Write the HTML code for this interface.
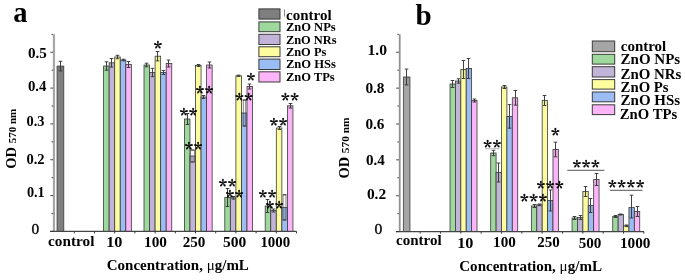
<!DOCTYPE html><html><head><meta charset="utf-8"><title>OD 570 nm vs concentration</title><style>html,body{margin:0;padding:0;background:#fff;width:685px;height:280px;overflow:hidden}svg{display:block}</style></head><body>
<svg width="685" height="280" viewBox="0 0 685 280" font-family='"Liberation Serif", "Times New Roman", serif' fill="#000">
<rect x="57.05" y="66.10" width="6.75" height="165.30" fill="#7f7f7f" stroke="#3a3a3a" stroke-width="0.8"/>
<rect x="57.45" y="66.10" width="5.95" height="4.80" fill="#000" fill-opacity="0.07"/>
<path d="M60.50 61.30V70.90M58.70 61.30H62.30M58.70 70.90H62.30" stroke="#383838" stroke-width="0.95" fill="none"/>
<rect x="103.60" y="66.00" width="5.55" height="165.40" fill="#9ed89c" stroke="#3a3a3a" stroke-width="0.8"/>
<rect x="104.00" y="66.00" width="4.75" height="4.20" fill="#000" fill-opacity="0.07"/>
<path d="M106.50 61.80V70.20M104.70 61.80H108.30M104.70 70.20H108.30" stroke="#383838" stroke-width="0.95" fill="none"/>
<rect x="109.15" y="62.80" width="5.55" height="168.60" fill="#c2b4d8" stroke="#3a3a3a" stroke-width="0.8"/>
<rect x="109.55" y="62.80" width="4.75" height="4.30" fill="#000" fill-opacity="0.07"/>
<path d="M111.50 58.50V67.10M109.70 58.50H113.30M109.70 67.10H113.30" stroke="#383838" stroke-width="0.95" fill="none"/>
<rect x="114.70" y="57.00" width="5.55" height="174.40" fill="#fdfda0" stroke="#3a3a3a" stroke-width="0.8"/>
<rect x="115.10" y="57.00" width="4.75" height="1.70" fill="#000" fill-opacity="0.07"/>
<path d="M117.50 55.30V58.70M115.70 55.30H119.30M115.70 58.70H119.30" stroke="#383838" stroke-width="0.95" fill="none"/>
<rect x="120.25" y="60.00" width="5.55" height="171.40" fill="#9cbcf4" stroke="#3a3a3a" stroke-width="0.8"/>
<rect x="120.65" y="60.00" width="4.75" height="0.80" fill="#000" fill-opacity="0.07"/>
<path d="M123.50 59.20V60.80M121.70 59.20H125.30M121.70 60.80H125.30" stroke="#383838" stroke-width="0.95" fill="none"/>
<rect x="125.80" y="64.50" width="5.55" height="166.90" fill="#fcb4f8" stroke="#3a3a3a" stroke-width="0.8"/>
<rect x="126.20" y="64.50" width="4.75" height="3.00" fill="#000" fill-opacity="0.07"/>
<path d="M128.50 61.50V67.50M126.70 61.50H130.30M126.70 67.50H130.30" stroke="#383838" stroke-width="0.95" fill="none"/>
<rect x="144.00" y="65.00" width="5.55" height="166.40" fill="#9ed89c" stroke="#3a3a3a" stroke-width="0.8"/>
<rect x="144.40" y="65.00" width="4.75" height="1.80" fill="#000" fill-opacity="0.07"/>
<path d="M146.50 63.20V66.80M144.70 63.20H148.30M144.70 66.80H148.30" stroke="#383838" stroke-width="0.95" fill="none"/>
<rect x="149.55" y="72.50" width="5.55" height="158.90" fill="#c2b4d8" stroke="#3a3a3a" stroke-width="0.8"/>
<rect x="149.95" y="72.50" width="4.75" height="4.20" fill="#000" fill-opacity="0.07"/>
<path d="M152.50 68.30V76.70M150.70 68.30H154.30M150.70 76.70H154.30" stroke="#383838" stroke-width="0.95" fill="none"/>
<rect x="155.10" y="56.20" width="5.55" height="175.20" fill="#fdfda0" stroke="#3a3a3a" stroke-width="0.8"/>
<rect x="155.50" y="56.20" width="4.75" height="4.70" fill="#000" fill-opacity="0.07"/>
<path d="M157.50 51.50V60.90M155.70 51.50H159.30M155.70 60.90H159.30" stroke="#383838" stroke-width="0.95" fill="none"/>
<rect x="160.65" y="72.50" width="5.55" height="158.90" fill="#9cbcf4" stroke="#3a3a3a" stroke-width="0.8"/>
<rect x="161.05" y="72.50" width="4.75" height="2.00" fill="#000" fill-opacity="0.07"/>
<path d="M163.50 70.50V74.50M161.70 70.50H165.30M161.70 74.50H165.30" stroke="#383838" stroke-width="0.95" fill="none"/>
<rect x="166.20" y="63.50" width="5.55" height="167.90" fill="#fcb4f8" stroke="#3a3a3a" stroke-width="0.8"/>
<rect x="166.60" y="63.50" width="4.75" height="3.50" fill="#000" fill-opacity="0.07"/>
<path d="M168.50 60.00V67.00M166.70 60.00H170.30M166.70 67.00H170.30" stroke="#383838" stroke-width="0.95" fill="none"/>
<rect x="184.40" y="119.00" width="5.55" height="112.40" fill="#9ed89c" stroke="#3a3a3a" stroke-width="0.8"/>
<rect x="184.80" y="119.00" width="4.75" height="5.50" fill="#000" fill-opacity="0.07"/>
<path d="M187.50 113.50V124.50M185.70 113.50H189.30M185.70 124.50H189.30" stroke="#383838" stroke-width="0.95" fill="none"/>
<rect x="189.95" y="156.00" width="5.55" height="75.40" fill="#c2b4d8" stroke="#3a3a3a" stroke-width="0.8"/>
<rect x="190.35" y="156.00" width="4.75" height="6.00" fill="#000" fill-opacity="0.07"/>
<rect x="190.30" y="150.00" width="4.40" height="12.00" fill="#000" fill-opacity="0.04" stroke="#505050" stroke-width="0.7"/>
<path d="M190.70 150.00H194.30M190.70 162.00H194.30" stroke="#383838" stroke-width="0.95" fill="none"/>
<rect x="195.50" y="65.50" width="5.55" height="165.90" fill="#fdfda0" stroke="#3a3a3a" stroke-width="0.8"/>
<rect x="195.90" y="65.50" width="4.75" height="1.00" fill="#000" fill-opacity="0.07"/>
<path d="M198.50 64.50V66.50M196.70 64.50H200.30M196.70 66.50H200.30" stroke="#383838" stroke-width="0.95" fill="none"/>
<rect x="201.05" y="97.00" width="5.55" height="134.40" fill="#9cbcf4" stroke="#3a3a3a" stroke-width="0.8"/>
<rect x="201.45" y="97.00" width="4.75" height="1.50" fill="#000" fill-opacity="0.07"/>
<path d="M203.50 95.50V98.50M201.70 95.50H205.30M201.70 98.50H205.30" stroke="#383838" stroke-width="0.95" fill="none"/>
<rect x="206.60" y="65.00" width="5.55" height="166.40" fill="#fcb4f8" stroke="#3a3a3a" stroke-width="0.8"/>
<rect x="207.00" y="65.00" width="4.75" height="3.00" fill="#000" fill-opacity="0.07"/>
<path d="M209.50 62.00V68.00M207.70 62.00H211.30M207.70 68.00H211.30" stroke="#383838" stroke-width="0.95" fill="none"/>
<rect x="224.80" y="197.50" width="5.55" height="33.90" fill="#9ed89c" stroke="#3a3a3a" stroke-width="0.8"/>
<rect x="225.20" y="197.50" width="4.75" height="9.00" fill="#000" fill-opacity="0.07"/>
<path d="M227.50 188.50V206.50M225.70 188.50H229.30M225.70 206.50H229.30" stroke="#383838" stroke-width="0.95" fill="none"/>
<rect x="230.35" y="197.80" width="5.55" height="33.60" fill="#c2b4d8" stroke="#3a3a3a" stroke-width="0.8"/>
<rect x="230.75" y="197.80" width="4.75" height="1.30" fill="#000" fill-opacity="0.07"/>
<path d="M233.50 196.50V199.10M231.70 196.50H235.30M231.70 199.10H235.30" stroke="#383838" stroke-width="0.95" fill="none"/>
<rect x="235.90" y="75.80" width="5.55" height="155.60" fill="#fdfda0" stroke="#3a3a3a" stroke-width="0.8"/>
<rect x="236.30" y="75.80" width="4.75" height="0.60" fill="#000" fill-opacity="0.07"/>
<path d="M238.50 75.20V76.40M236.70 75.20H240.30M236.70 76.40H240.30" stroke="#383838" stroke-width="0.95" fill="none"/>
<rect x="241.45" y="113.00" width="5.55" height="118.40" fill="#9cbcf4" stroke="#3a3a3a" stroke-width="0.8"/>
<rect x="241.85" y="113.00" width="4.75" height="13.00" fill="#000" fill-opacity="0.07"/>
<rect x="243.20" y="100.00" width="2.60" height="26.00" fill="#000" fill-opacity="0.04" stroke="#505050" stroke-width="0.7"/>
<path d="M242.70 100.00H246.30M242.70 126.00H246.30" stroke="#383838" stroke-width="0.95" fill="none"/>
<rect x="247.00" y="86.50" width="5.55" height="144.90" fill="#fcb4f8" stroke="#3a3a3a" stroke-width="0.8"/>
<rect x="247.40" y="86.50" width="4.75" height="2.50" fill="#000" fill-opacity="0.07"/>
<path d="M249.50 84.00V89.00M247.70 84.00H251.30M247.70 89.00H251.30" stroke="#383838" stroke-width="0.95" fill="none"/>
<rect x="265.20" y="206.00" width="5.55" height="25.40" fill="#9ed89c" stroke="#3a3a3a" stroke-width="0.8"/>
<rect x="265.60" y="206.00" width="4.75" height="6.50" fill="#000" fill-opacity="0.07"/>
<path d="M267.50 199.50V212.50M265.70 199.50H269.30M265.70 212.50H269.30" stroke="#383838" stroke-width="0.95" fill="none"/>
<rect x="270.75" y="210.50" width="5.55" height="20.90" fill="#c2b4d8" stroke="#3a3a3a" stroke-width="0.8"/>
<rect x="271.15" y="210.50" width="4.75" height="1.50" fill="#000" fill-opacity="0.07"/>
<path d="M273.50 209.00V212.00M271.70 209.00H275.30M271.70 212.00H275.30" stroke="#383838" stroke-width="0.95" fill="none"/>
<rect x="276.30" y="128.00" width="5.55" height="103.40" fill="#fdfda0" stroke="#3a3a3a" stroke-width="0.8"/>
<rect x="276.70" y="128.00" width="4.75" height="1.50" fill="#000" fill-opacity="0.07"/>
<path d="M279.50 126.50V129.50M277.70 126.50H281.30M277.70 129.50H281.30" stroke="#383838" stroke-width="0.95" fill="none"/>
<rect x="281.85" y="207.50" width="5.55" height="23.90" fill="#9cbcf4" stroke="#3a3a3a" stroke-width="0.8"/>
<rect x="282.25" y="207.50" width="4.75" height="12.50" fill="#000" fill-opacity="0.07"/>
<rect x="283.00" y="194.80" width="3.00" height="25.20" fill="#000" fill-opacity="0.04" stroke="#505050" stroke-width="0.7"/>
<path d="M282.70 194.80H286.30M282.70 220.00H286.30" stroke="#383838" stroke-width="0.95" fill="none"/>
<rect x="287.40" y="105.80" width="5.55" height="125.60" fill="#fcb4f8" stroke="#3a3a3a" stroke-width="0.8"/>
<rect x="287.80" y="105.80" width="4.75" height="2.30" fill="#000" fill-opacity="0.07"/>
<path d="M290.50 103.50V108.10M288.70 103.50H292.30M288.70 108.10H292.30" stroke="#383838" stroke-width="0.95" fill="none"/>
<line x1="53.95" y1="34.3" x2="53.95" y2="231.4" stroke="#a6a6a6" stroke-width="2.2"/>
<line x1="50.1" y1="231.4" x2="296.5" y2="231.4" stroke="#444" stroke-width="1.3"/>
<line x1="74.30" y1="231.4" x2="74.30" y2="233.4" stroke="#333" stroke-width="1"/>
<line x1="94.50" y1="231.4" x2="94.50" y2="233.4" stroke="#333" stroke-width="1"/>
<line x1="114.70" y1="231.4" x2="114.70" y2="233.4" stroke="#333" stroke-width="1"/>
<line x1="134.90" y1="231.4" x2="134.90" y2="233.4" stroke="#333" stroke-width="1"/>
<line x1="155.10" y1="231.4" x2="155.10" y2="233.4" stroke="#333" stroke-width="1"/>
<line x1="175.30" y1="231.4" x2="175.30" y2="233.4" stroke="#333" stroke-width="1"/>
<line x1="195.50" y1="231.4" x2="195.50" y2="233.4" stroke="#333" stroke-width="1"/>
<line x1="215.70" y1="231.4" x2="215.70" y2="233.4" stroke="#333" stroke-width="1"/>
<line x1="235.90" y1="231.4" x2="235.90" y2="233.4" stroke="#333" stroke-width="1"/>
<line x1="256.10" y1="231.4" x2="256.10" y2="233.4" stroke="#333" stroke-width="1"/>
<line x1="276.30" y1="231.4" x2="276.30" y2="233.4" stroke="#333" stroke-width="1"/>
<line x1="296.50" y1="231.4" x2="296.50" y2="233.4" stroke="#333" stroke-width="1"/>
<line x1="50.35" y1="231.40" x2="53.15" y2="231.40" stroke="#333" stroke-width="0.9"/>
<line x1="51.55" y1="213.49" x2="53.15" y2="213.49" stroke="#333" stroke-width="0.9"/>
<line x1="50.35" y1="195.57" x2="53.15" y2="195.57" stroke="#333" stroke-width="0.9"/>
<line x1="51.55" y1="177.66" x2="53.15" y2="177.66" stroke="#333" stroke-width="0.9"/>
<line x1="50.35" y1="159.74" x2="53.15" y2="159.74" stroke="#333" stroke-width="0.9"/>
<line x1="51.55" y1="141.82" x2="53.15" y2="141.82" stroke="#333" stroke-width="0.9"/>
<line x1="50.35" y1="123.91" x2="53.15" y2="123.91" stroke="#333" stroke-width="0.9"/>
<line x1="51.55" y1="106.00" x2="53.15" y2="106.00" stroke="#333" stroke-width="0.9"/>
<line x1="50.35" y1="88.08" x2="53.15" y2="88.08" stroke="#333" stroke-width="0.9"/>
<line x1="51.55" y1="70.16" x2="53.15" y2="70.16" stroke="#333" stroke-width="0.9"/>
<line x1="50.35" y1="52.25" x2="53.15" y2="52.25" stroke="#333" stroke-width="0.9"/>
<line x1="51.55" y1="34.34" x2="53.15" y2="34.34" stroke="#333" stroke-width="0.9"/>
<rect x="403.34" y="77.00" width="6.60" height="154.60" fill="#a5a5a5" stroke="#3a3a3a" stroke-width="0.8"/>
<rect x="403.74" y="77.00" width="5.80" height="7.90" fill="#000" fill-opacity="0.07"/>
<path d="M406.50 69.10V84.90M404.70 69.10H408.30M404.70 84.90H408.30" stroke="#383838" stroke-width="0.95" fill="none"/>
<rect x="450.02" y="84.00" width="5.40" height="147.60" fill="#9ed89c" stroke="#3a3a3a" stroke-width="0.8"/>
<rect x="450.42" y="84.00" width="4.60" height="3.50" fill="#000" fill-opacity="0.07"/>
<path d="M452.50 80.50V87.50M450.70 80.50H454.30M450.70 87.50H454.30" stroke="#383838" stroke-width="0.95" fill="none"/>
<rect x="455.42" y="81.00" width="5.40" height="150.60" fill="#c2b4d8" stroke="#3a3a3a" stroke-width="0.8"/>
<rect x="455.82" y="81.00" width="4.60" height="2.20" fill="#000" fill-opacity="0.07"/>
<path d="M458.50 78.80V83.20M456.70 78.80H460.30M456.70 83.20H460.30" stroke="#383838" stroke-width="0.95" fill="none"/>
<rect x="460.82" y="69.50" width="5.40" height="162.10" fill="#fdfda0" stroke="#3a3a3a" stroke-width="0.8"/>
<rect x="461.22" y="69.50" width="4.60" height="9.00" fill="#000" fill-opacity="0.07"/>
<path d="M463.50 60.50V78.50M461.70 60.50H465.30M461.70 78.50H465.30" stroke="#383838" stroke-width="0.95" fill="none"/>
<rect x="466.22" y="68.50" width="5.40" height="163.10" fill="#9cbcf4" stroke="#3a3a3a" stroke-width="0.8"/>
<rect x="466.62" y="68.50" width="4.60" height="10.00" fill="#000" fill-opacity="0.07"/>
<path d="M468.50 58.50V78.50M466.70 58.50H470.30M466.70 78.50H470.30" stroke="#383838" stroke-width="0.95" fill="none"/>
<rect x="471.62" y="100.50" width="5.40" height="131.10" fill="#fcb4f8" stroke="#3a3a3a" stroke-width="0.8"/>
<rect x="472.02" y="100.50" width="4.60" height="1.50" fill="#000" fill-opacity="0.07"/>
<path d="M474.50 99.00V102.00M472.70 99.00H476.30M472.70 102.00H476.30" stroke="#383838" stroke-width="0.95" fill="none"/>
<rect x="490.70" y="153.00" width="5.40" height="78.60" fill="#9ed89c" stroke="#3a3a3a" stroke-width="0.8"/>
<rect x="491.10" y="153.00" width="4.60" height="2.70" fill="#000" fill-opacity="0.07"/>
<path d="M493.50 150.30V155.70M491.70 150.30H495.30M491.70 155.70H495.30" stroke="#383838" stroke-width="0.95" fill="none"/>
<rect x="496.10" y="172.50" width="5.40" height="59.10" fill="#c2b4d8" stroke="#3a3a3a" stroke-width="0.8"/>
<rect x="496.50" y="172.50" width="4.60" height="9.50" fill="#000" fill-opacity="0.07"/>
<path d="M498.50 163.00V182.00M496.70 163.00H500.30M496.70 182.00H500.30" stroke="#383838" stroke-width="0.95" fill="none"/>
<rect x="501.50" y="87.00" width="5.40" height="144.60" fill="#fdfda0" stroke="#3a3a3a" stroke-width="0.8"/>
<rect x="501.90" y="87.00" width="4.60" height="1.50" fill="#000" fill-opacity="0.07"/>
<path d="M504.50 85.50V88.50M502.70 85.50H506.30M502.70 88.50H506.30" stroke="#383838" stroke-width="0.95" fill="none"/>
<rect x="506.90" y="116.40" width="5.40" height="115.20" fill="#9cbcf4" stroke="#3a3a3a" stroke-width="0.8"/>
<rect x="507.30" y="116.40" width="4.60" height="11.80" fill="#000" fill-opacity="0.07"/>
<path d="M509.50 104.60V128.20M507.70 104.60H511.30M507.70 128.20H511.30" stroke="#383838" stroke-width="0.95" fill="none"/>
<rect x="512.30" y="97.80" width="5.40" height="133.80" fill="#fcb4f8" stroke="#3a3a3a" stroke-width="0.8"/>
<rect x="512.70" y="97.80" width="4.60" height="7.30" fill="#000" fill-opacity="0.07"/>
<path d="M515.50 90.50V105.10M513.70 90.50H517.30M513.70 105.10H517.30" stroke="#383838" stroke-width="0.95" fill="none"/>
<rect x="531.38" y="206.00" width="5.40" height="25.60" fill="#9ed89c" stroke="#3a3a3a" stroke-width="0.8"/>
<rect x="531.78" y="206.00" width="4.60" height="1.50" fill="#000" fill-opacity="0.07"/>
<path d="M534.50 204.50V207.50M532.70 204.50H536.30M532.70 207.50H536.30" stroke="#383838" stroke-width="0.95" fill="none"/>
<rect x="536.78" y="204.80" width="5.40" height="26.80" fill="#c2b4d8" stroke="#3a3a3a" stroke-width="0.8"/>
<rect x="537.18" y="204.80" width="4.60" height="0.80" fill="#000" fill-opacity="0.07"/>
<path d="M539.50 204.00V205.60M537.70 204.00H541.30M537.70 205.60H541.30" stroke="#383838" stroke-width="0.95" fill="none"/>
<rect x="542.18" y="100.50" width="5.40" height="131.10" fill="#fdfda0" stroke="#3a3a3a" stroke-width="0.8"/>
<rect x="542.58" y="100.50" width="4.60" height="5.00" fill="#000" fill-opacity="0.07"/>
<path d="M544.50 95.50V105.50M542.70 95.50H546.30M542.70 105.50H546.30" stroke="#383838" stroke-width="0.95" fill="none"/>
<rect x="547.58" y="200.50" width="5.40" height="31.10" fill="#9cbcf4" stroke="#3a3a3a" stroke-width="0.8"/>
<rect x="547.98" y="200.50" width="4.60" height="10.50" fill="#000" fill-opacity="0.07"/>
<path d="M550.50 190.00V211.00M548.70 190.00H552.30M548.70 211.00H552.30" stroke="#383838" stroke-width="0.95" fill="none"/>
<rect x="552.98" y="149.50" width="5.40" height="82.10" fill="#fcb4f8" stroke="#3a3a3a" stroke-width="0.8"/>
<rect x="553.38" y="149.50" width="4.60" height="7.30" fill="#000" fill-opacity="0.07"/>
<path d="M555.50 142.20V156.80M553.70 142.20H557.30M553.70 156.80H557.30" stroke="#383838" stroke-width="0.95" fill="none"/>
<rect x="572.06" y="218.00" width="5.40" height="13.60" fill="#9ed89c" stroke="#3a3a3a" stroke-width="0.8"/>
<rect x="572.46" y="218.00" width="4.60" height="1.50" fill="#000" fill-opacity="0.07"/>
<path d="M574.50 216.50V219.50M572.70 216.50H576.30M572.70 219.50H576.30" stroke="#383838" stroke-width="0.95" fill="none"/>
<rect x="577.46" y="217.50" width="5.40" height="14.10" fill="#c2b4d8" stroke="#3a3a3a" stroke-width="0.8"/>
<rect x="577.86" y="217.50" width="4.60" height="2.00" fill="#000" fill-opacity="0.07"/>
<path d="M580.50 215.50V219.50M578.70 215.50H582.30M578.70 219.50H582.30" stroke="#383838" stroke-width="0.95" fill="none"/>
<rect x="582.86" y="191.50" width="5.40" height="40.10" fill="#fdfda0" stroke="#3a3a3a" stroke-width="0.8"/>
<rect x="583.26" y="191.50" width="4.60" height="5.00" fill="#000" fill-opacity="0.07"/>
<path d="M585.50 186.50V196.50M583.70 186.50H587.30M583.70 196.50H587.30" stroke="#383838" stroke-width="0.95" fill="none"/>
<rect x="588.26" y="205.50" width="5.40" height="26.10" fill="#9cbcf4" stroke="#3a3a3a" stroke-width="0.8"/>
<rect x="588.66" y="205.50" width="4.60" height="7.00" fill="#000" fill-opacity="0.07"/>
<path d="M590.50 198.50V212.50M588.70 198.50H592.30M588.70 212.50H592.30" stroke="#383838" stroke-width="0.95" fill="none"/>
<rect x="593.66" y="179.50" width="5.40" height="52.10" fill="#fcb4f8" stroke="#3a3a3a" stroke-width="0.8"/>
<rect x="594.06" y="179.50" width="4.60" height="6.00" fill="#000" fill-opacity="0.07"/>
<path d="M596.50 173.50V185.50M594.70 173.50H598.30M594.70 185.50H598.30" stroke="#383838" stroke-width="0.95" fill="none"/>
<rect x="612.74" y="216.50" width="5.40" height="15.10" fill="#9ed89c" stroke="#3a3a3a" stroke-width="0.8"/>
<rect x="613.14" y="216.50" width="4.60" height="1.00" fill="#000" fill-opacity="0.07"/>
<path d="M615.50 215.50V217.50M613.70 215.50H617.30M613.70 217.50H617.30" stroke="#383838" stroke-width="0.95" fill="none"/>
<rect x="618.14" y="214.50" width="5.40" height="17.10" fill="#c2b4d8" stroke="#3a3a3a" stroke-width="0.8"/>
<rect x="618.54" y="214.50" width="4.60" height="0.50" fill="#000" fill-opacity="0.07"/>
<path d="M620.50 214.00V215.00M618.70 214.00H622.30M618.70 215.00H622.30" stroke="#383838" stroke-width="0.95" fill="none"/>
<rect x="623.54" y="225.80" width="5.40" height="5.80" fill="#fdfda0" stroke="#3a3a3a" stroke-width="0.8"/>
<rect x="623.94" y="225.80" width="4.60" height="0.80" fill="#000" fill-opacity="0.07"/>
<path d="M626.50 225.00V226.60M624.70 225.00H628.30M624.70 226.60H628.30" stroke="#383838" stroke-width="0.95" fill="none"/>
<rect x="628.94" y="207.60" width="5.40" height="24.00" fill="#9cbcf4" stroke="#3a3a3a" stroke-width="0.8"/>
<rect x="629.34" y="207.60" width="4.60" height="10.40" fill="#000" fill-opacity="0.07"/>
<path d="M631.50 195.20V218.00M629.70 195.20H633.30M629.70 218.00H633.30" stroke="#383838" stroke-width="0.95" fill="none"/>
<rect x="634.34" y="211.50" width="5.40" height="20.10" fill="#fcb4f8" stroke="#3a3a3a" stroke-width="0.8"/>
<rect x="634.74" y="211.50" width="4.60" height="5.00" fill="#000" fill-opacity="0.07"/>
<path d="M637.50 206.50V216.50M635.70 206.50H639.30M635.70 216.50H639.30" stroke="#383838" stroke-width="0.95" fill="none"/>
<line x1="399.7" y1="34.2" x2="399.7" y2="231.6" stroke="#929292" stroke-width="1.8"/>
<line x1="395.8" y1="231.6" x2="644.0" y2="231.6" stroke="#444" stroke-width="1.3"/>
<line x1="420.14" y1="231.6" x2="420.14" y2="233.6" stroke="#333" stroke-width="1"/>
<line x1="440.48" y1="231.6" x2="440.48" y2="233.6" stroke="#333" stroke-width="1"/>
<line x1="460.82" y1="231.6" x2="460.82" y2="233.6" stroke="#333" stroke-width="1"/>
<line x1="481.16" y1="231.6" x2="481.16" y2="233.6" stroke="#333" stroke-width="1"/>
<line x1="501.50" y1="231.6" x2="501.50" y2="233.6" stroke="#333" stroke-width="1"/>
<line x1="521.84" y1="231.6" x2="521.84" y2="233.6" stroke="#333" stroke-width="1"/>
<line x1="542.18" y1="231.6" x2="542.18" y2="233.6" stroke="#333" stroke-width="1"/>
<line x1="562.52" y1="231.6" x2="562.52" y2="233.6" stroke="#333" stroke-width="1"/>
<line x1="582.86" y1="231.6" x2="582.86" y2="233.6" stroke="#333" stroke-width="1"/>
<line x1="603.20" y1="231.6" x2="603.20" y2="233.6" stroke="#333" stroke-width="1"/>
<line x1="623.54" y1="231.6" x2="623.54" y2="233.6" stroke="#333" stroke-width="1"/>
<line x1="643.88" y1="231.6" x2="643.88" y2="233.6" stroke="#333" stroke-width="1"/>
<line x1="396.10" y1="231.60" x2="398.90" y2="231.60" stroke="#333" stroke-width="0.9"/>
<line x1="397.30" y1="213.66" x2="398.90" y2="213.66" stroke="#333" stroke-width="0.9"/>
<line x1="396.10" y1="195.73" x2="398.90" y2="195.73" stroke="#333" stroke-width="0.9"/>
<line x1="397.30" y1="177.80" x2="398.90" y2="177.80" stroke="#333" stroke-width="0.9"/>
<line x1="396.10" y1="159.86" x2="398.90" y2="159.86" stroke="#333" stroke-width="0.9"/>
<line x1="397.30" y1="141.93" x2="398.90" y2="141.93" stroke="#333" stroke-width="0.9"/>
<line x1="396.10" y1="123.99" x2="398.90" y2="123.99" stroke="#333" stroke-width="0.9"/>
<line x1="397.30" y1="106.05" x2="398.90" y2="106.05" stroke="#333" stroke-width="0.9"/>
<line x1="396.10" y1="88.12" x2="398.90" y2="88.12" stroke="#333" stroke-width="0.9"/>
<line x1="397.30" y1="70.19" x2="398.90" y2="70.19" stroke="#333" stroke-width="0.9"/>
<line x1="396.10" y1="52.25" x2="398.90" y2="52.25" stroke="#333" stroke-width="0.9"/>
<line x1="397.30" y1="34.31" x2="398.90" y2="34.31" stroke="#333" stroke-width="0.9"/>
<text x="153.71" y="54.72" font-size="17" font-weight="bold" letter-spacing="1.0" stroke="#000" stroke-width="0.3" font-family='"Noto Serif CJK SC", "Liberation Serif", serif'>*</text>
<text x="179.71" y="121.72" font-size="17" font-weight="bold" letter-spacing="1.0" stroke="#000" stroke-width="0.3" font-family='"Noto Serif CJK SC", "Liberation Serif", serif'>**</text>
<text x="184.71" y="155.72" font-size="17" font-weight="bold" letter-spacing="1.0" stroke="#000" stroke-width="0.3" font-family='"Noto Serif CJK SC", "Liberation Serif", serif'>**</text>
<text x="195.71" y="99.72" font-size="17" font-weight="bold" letter-spacing="1.0" stroke="#000" stroke-width="0.3" font-family='"Noto Serif CJK SC", "Liberation Serif", serif'>**</text>
<text x="246.71" y="86.72" font-size="17" font-weight="bold" letter-spacing="1.0" stroke="#000" stroke-width="0.3" font-family='"Noto Serif CJK SC", "Liberation Serif", serif'>*</text>
<text x="235.21" y="106.72" font-size="17" font-weight="bold" letter-spacing="1.0" stroke="#000" stroke-width="0.3" font-family='"Noto Serif CJK SC", "Liberation Serif", serif'>**</text>
<text x="218.71" y="193.22" font-size="17" font-weight="bold" letter-spacing="1.0" stroke="#000" stroke-width="0.3" font-family='"Noto Serif CJK SC", "Liberation Serif", serif'>**</text>
<text x="225.71" y="203.72" font-size="17" font-weight="bold" letter-spacing="1.0" stroke="#000" stroke-width="0.3" font-family='"Noto Serif CJK SC", "Liberation Serif", serif'>**</text>
<text x="269.71" y="131.72" font-size="17" font-weight="bold" letter-spacing="1.0" stroke="#000" stroke-width="0.3" font-family='"Noto Serif CJK SC", "Liberation Serif", serif'>**</text>
<text x="281.21" y="107.22" font-size="17" font-weight="bold" letter-spacing="1.0" stroke="#000" stroke-width="0.3" font-family='"Noto Serif CJK SC", "Liberation Serif", serif'>**</text>
<text x="258.71" y="203.72" font-size="17" font-weight="bold" letter-spacing="1.0" stroke="#000" stroke-width="0.3" font-family='"Noto Serif CJK SC", "Liberation Serif", serif'>**</text>
<text x="265.71" y="214.72" font-size="17" font-weight="bold" letter-spacing="1.0" stroke="#000" stroke-width="0.3" font-family='"Noto Serif CJK SC", "Liberation Serif", serif'>**</text>
<text x="483.61" y="153.52" font-size="17" font-weight="bold" letter-spacing="1.0" stroke="#000" stroke-width="0.3" font-family='"Noto Serif CJK SC", "Liberation Serif", serif'>**</text>
<text x="520.21" y="207.91" font-size="17" font-weight="bold" letter-spacing="1.0" stroke="#000" stroke-width="0.3" font-family='"Noto Serif CJK SC", "Liberation Serif", serif'>***</text>
<text x="536.81" y="195.12" font-size="17" font-weight="bold" letter-spacing="1.0" stroke="#000" stroke-width="0.3" font-family='"Noto Serif CJK SC", "Liberation Serif", serif'>***</text>
<text x="551.21" y="141.72" font-size="17" font-weight="bold" letter-spacing="1.0" stroke="#000" stroke-width="0.3" font-family='"Noto Serif CJK SC", "Liberation Serif", serif'>*</text>
<text x="572.81" y="173.81" font-size="17" font-weight="bold" letter-spacing="1.0" stroke="#000" stroke-width="0.3" font-family='"Noto Serif CJK SC", "Liberation Serif", serif'>***</text>
<text x="608.21" y="194.22" font-size="17" font-weight="bold" letter-spacing="1.0" stroke="#000" stroke-width="0.3" font-family='"Noto Serif CJK SC", "Liberation Serif", serif'>****</text>
<line x1="485" y1="148.6" x2="499.6" y2="148.6" stroke="#c4c4c4" stroke-width="1.2"/>
<line x1="567.3" y1="170.3" x2="604.4" y2="170.3" stroke="#555" stroke-width="1"/>
<line x1="610" y1="190.3" x2="642.5" y2="190.3" stroke="#555" stroke-width="1"/>
<text x="13.2" y="21.5" font-size="28.5" font-weight="bold" text-anchor="start">a</text>
<text x="415.4" y="24.5" font-size="29" font-weight="bold" text-anchor="start">b</text>
<text x="27.93" y="58.30" font-size="14.5" font-weight="bold" textLength="18.83" lengthAdjust="spacingAndGlyphs">0.5</text>
<text x="27.94" y="91.00" font-size="14.5" font-weight="bold" textLength="18.54" lengthAdjust="spacingAndGlyphs">0.4</text>
<text x="26.45" y="126.00" font-size="14.5" font-weight="bold" textLength="18.04" lengthAdjust="spacingAndGlyphs">0.3</text>
<text x="26.45" y="163.50" font-size="14.5" font-weight="bold" textLength="18.18" lengthAdjust="spacingAndGlyphs">0.2</text>
<text x="26.96" y="197.00" font-size="14.5" font-weight="bold" textLength="17.78" lengthAdjust="spacingAndGlyphs">0.1</text>
<text x="31.42" y="234.20" font-size="14.5" font-weight="normal" textLength="7.67" lengthAdjust="spacingAndGlyphs" stroke="#000" stroke-width="0.35">0</text>
<text x="367.55" y="54.50" font-size="14.5" font-weight="bold" textLength="19.55" lengthAdjust="spacingAndGlyphs">1.0</text>
<text x="365.42" y="93.00" font-size="14.5" font-weight="bold" textLength="19.09" lengthAdjust="spacingAndGlyphs">0.8</text>
<text x="365.42" y="128.80" font-size="14.5" font-weight="bold" textLength="19.03" lengthAdjust="spacingAndGlyphs">0.6</text>
<text x="365.93" y="165.00" font-size="14.5" font-weight="bold" textLength="18.85" lengthAdjust="spacingAndGlyphs">0.4</text>
<text x="366.91" y="199.00" font-size="14.5" font-weight="bold" textLength="19.25" lengthAdjust="spacingAndGlyphs">0.2</text>
<text x="374.61" y="234.30" font-size="14.5" font-weight="normal" textLength="7.79" lengthAdjust="spacingAndGlyphs" stroke="#000" stroke-width="0.35">0</text>
<text x="48.08" y="245.90" font-size="14.5" font-weight="bold" textLength="46.38" lengthAdjust="spacingAndGlyphs">control</text>
<text x="106.20" y="246.50" font-size="14.5" font-weight="bold" textLength="16.22" lengthAdjust="spacingAndGlyphs">10</text>
<text x="144.08" y="246.50" font-size="14.5" font-weight="bold" textLength="22.90" lengthAdjust="spacingAndGlyphs">100</text>
<text x="182.66" y="246.50" font-size="14.5" font-weight="bold" textLength="22.71" lengthAdjust="spacingAndGlyphs">250</text>
<text x="222.98" y="247.30" font-size="14.5" font-weight="bold" textLength="23.31" lengthAdjust="spacingAndGlyphs">500</text>
<text x="260.41" y="246.80" font-size="14.5" font-weight="bold" textLength="29.76" lengthAdjust="spacingAndGlyphs">1000</text>
<text x="395.99" y="245.30" font-size="14.5" font-weight="bold" textLength="45.77" lengthAdjust="spacingAndGlyphs">control</text>
<text x="457.20" y="248.00" font-size="14.5" font-weight="bold" textLength="16.22" lengthAdjust="spacingAndGlyphs">10</text>
<text x="493.09" y="247.30" font-size="14.5" font-weight="bold" textLength="22.69" lengthAdjust="spacingAndGlyphs">100</text>
<text x="537.37" y="247.30" font-size="14.5" font-weight="bold" textLength="22.50" lengthAdjust="spacingAndGlyphs">250</text>
<text x="578.69" y="247.50" font-size="14.5" font-weight="bold" textLength="22.68" lengthAdjust="spacingAndGlyphs">500</text>
<text x="619.98" y="248.00" font-size="14.5" font-weight="bold" textLength="30.50" lengthAdjust="spacingAndGlyphs">1000</text>
<text x="106.77" y="269.8" font-size="14.5" font-weight="bold" textLength="99.92" lengthAdjust="spacingAndGlyphs" style="white-space:pre">Concentration, </text>
<text x="206.69" y="269.8" font-size="14.5" font-weight="normal" textLength="8.04" lengthAdjust="spacingAndGlyphs">μ</text>
<text x="214.72" y="269.8" font-size="14.5" font-weight="bold" textLength="34.14" lengthAdjust="spacingAndGlyphs">g/mL</text>
<text x="459.26" y="271" font-size="14.5" font-weight="bold" textLength="100.34" lengthAdjust="spacingAndGlyphs" style="white-space:pre">Concentration, </text>
<text x="559.61" y="271" font-size="14.5" font-weight="normal" textLength="8.07" lengthAdjust="spacingAndGlyphs">μ</text>
<text x="567.68" y="271" font-size="14.5" font-weight="bold" textLength="34.29" lengthAdjust="spacingAndGlyphs">g/mL</text>
<text transform="translate(15.8,168.81) rotate(-90)" font-size="14.5" font-weight="bold" textLength="21.82" lengthAdjust="spacingAndGlyphs">OD</text>
<text transform="translate(15.8,143.14) rotate(-90)" font-size="10.5" font-weight="bold" textLength="34.32" lengthAdjust="spacingAndGlyphs">570 nm</text>
<text transform="translate(349.2,178.40) rotate(-90)" font-size="14.5" font-weight="bold" textLength="21.61" lengthAdjust="spacingAndGlyphs">OD</text>
<text transform="translate(349.2,153.15) rotate(-90)" font-size="10.5" font-weight="bold" textLength="35.65" lengthAdjust="spacingAndGlyphs">570 nm</text>
<rect x="258.90" y="8.90" width="21.10" height="10.20" fill="#7f7f7f" stroke="#3a3a3a" stroke-width="1"/>
<rect x="258.90" y="21.90" width="21.10" height="9.80" fill="#9ed89c" stroke="#3a3a3a" stroke-width="1"/>
<rect x="258.90" y="34.30" width="21.10" height="10.20" fill="#c2b4d8" stroke="#3a3a3a" stroke-width="1"/>
<rect x="258.90" y="46.80" width="21.10" height="9.90" fill="#fdfda0" stroke="#3a3a3a" stroke-width="1"/>
<rect x="258.90" y="59.10" width="21.10" height="10.40" fill="#9cbcf4" stroke="#3a3a3a" stroke-width="1"/>
<rect x="258.90" y="71.80" width="21.10" height="10.20" fill="#fcb4f8" stroke="#3a3a3a" stroke-width="1"/>
<text x="286.09" y="19.50" font-size="14.3" font-weight="bold" textLength="45.56" lengthAdjust="spacingAndGlyphs">control</text>
<text x="285.90" y="31.20" font-size="12.2" font-weight="bold" textLength="49.81" lengthAdjust="spacingAndGlyphs">ZnO NPs</text>
<text x="285.91" y="43.50" font-size="12.2" font-weight="bold" textLength="50.70" lengthAdjust="spacingAndGlyphs">ZnO NRs</text>
<text x="285.91" y="55.80" font-size="12.2" font-weight="bold" textLength="40.40" lengthAdjust="spacingAndGlyphs">ZnO Ps</text>
<text x="285.90" y="67.80" font-size="12.2" font-weight="bold" textLength="50.11" lengthAdjust="spacingAndGlyphs">ZnO HSs</text>
<text x="285.90" y="80.50" font-size="12.2" font-weight="bold" textLength="48.80" lengthAdjust="spacingAndGlyphs">ZnO TPs</text>
<rect x="592.30" y="41.00" width="22.40" height="10.70" fill="#a5a5a5" stroke="#3a3a3a" stroke-width="1"/>
<rect x="592.30" y="54.30" width="22.40" height="9.80" fill="#9ed89c" stroke="#3a3a3a" stroke-width="1"/>
<rect x="592.30" y="66.70" width="22.40" height="10.30" fill="#c2b4d8" stroke="#3a3a3a" stroke-width="1"/>
<rect x="592.30" y="79.60" width="22.40" height="9.50" fill="#fdfda0" stroke="#3a3a3a" stroke-width="1"/>
<rect x="592.30" y="92.00" width="22.40" height="9.80" fill="#9cbcf4" stroke="#3a3a3a" stroke-width="1"/>
<rect x="592.30" y="104.80" width="22.40" height="9.80" fill="#fcb4f8" stroke="#3a3a3a" stroke-width="1"/>
<text x="620.79" y="51.00" font-size="14.5" font-weight="bold" textLength="45.46" lengthAdjust="spacingAndGlyphs">control</text>
<text x="620.58" y="63.50" font-size="14.5" font-weight="bold" textLength="59.58" lengthAdjust="spacingAndGlyphs">ZnO NPs</text>
<text x="620.59" y="78.50" font-size="14.5" font-weight="bold" textLength="60.78" lengthAdjust="spacingAndGlyphs">ZnO NRs</text>
<text x="620.59" y="91.50" font-size="14.5" font-weight="bold" textLength="47.97" lengthAdjust="spacingAndGlyphs">ZnO Ps</text>
<text x="620.58" y="105.00" font-size="14.5" font-weight="bold" textLength="59.58" lengthAdjust="spacingAndGlyphs">ZnO HSs</text>
<text x="619.80" y="119.00" font-size="14.5" font-weight="bold" textLength="57.36" lengthAdjust="spacingAndGlyphs">ZnO TPs</text>
<line x1="284.5" y1="9.5" x2="284.5" y2="16.5" stroke="#555" stroke-width="0.7"/>
</svg></body></html>
